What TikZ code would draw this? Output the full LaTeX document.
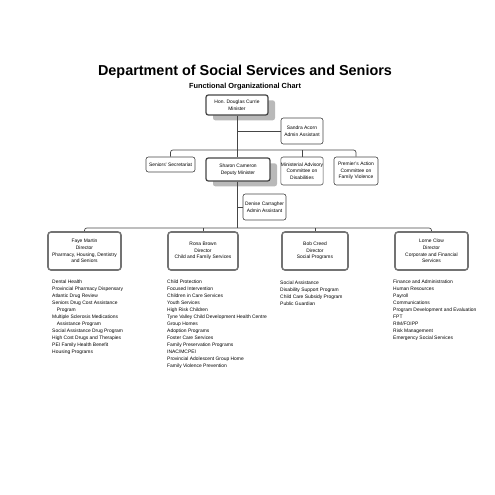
\documentclass[tikz,border=0pt]{standalone}
\usepackage{fontspec}
\setmainfont{Liberation Sans}
\usetikzlibrary{shadows}
\definecolor{line_grey}{RGB}{70,70,70}
\definecolor{shade_grey}{RGB}{185,185,185}
\newcommand\boxfont{\fontsize{4.2}{5.7}\selectfont}
\newcommand\listfont{\fontsize{4.2}{6.0}\selectfont}

\begin{document}
\begin{tikzpicture}[x=0.03cm, y=-0.03cm,
    headbox/.style={draw=line_grey, line width=1.1pt, rounded corners=2pt, fill=white,
      inner sep=0pt, align=center, font=\boxfont,
      drop shadow={shadow xshift=0.21cm, shadow yshift=-0.16cm, fill=shade_grey, opacity=1}},
    smallbox/.style={draw=line_grey, line width=0.5pt, rounded corners=2pt, fill=white,
      inner sep=0pt, align=center, font=\boxfont},
    dirbox/.style={draw=black!55, line width=1.3pt, rounded corners=2.5pt, fill=white,
      inner sep=0pt, align=center, font=\boxfont,
      minimum height=38*0.03cm},
    duties/.style={anchor=north west, inner sep=0pt, align=left, font=\listfont},
    conn/.style={draw=line_grey, line width=0.6pt, rounded corners=2pt}]
  \useasboundingbox (0,0) rectangle (495,495);

  % heading
  \node[font=\fontsize{12.3}{14}\selectfont\bfseries] (title) at (245,72)
    {Department of Social Services and Seniors};
  \node[font=\fontsize{6.3}{7}\selectfont\bfseries] (subtitle) at (245,86.5)
    {Functional Organizational Chart};

  % minister and deputy
  \node[headbox, minimum width=62*0.03cm, minimum height=20*0.03cm]
    (min) at (237,105) {Hon. Douglas Currie\\Minister};
  \node[headbox, minimum width=64*0.03cm, minimum height=23*0.03cm]
    (deputy) at (238,169.5) {Sharon Cameron\\Deputy Minister};
  \node[smallbox, minimum width=42*0.03cm, minimum height=26*0.03cm]
    (sandra) at (302,131) {Sandra Acorn\\Admin Assistant};
  \node[smallbox, minimum width=49*0.03cm, minimum height=15*0.03cm]
    (senior) at (170.5,164.5) {Seniors' Secretariat};
  \node[smallbox, minimum width=42*0.03cm, minimum height=28*0.03cm]
    (advisory) at (302,171) {Ministerial Advisory\\Committee on\\Disabilities};
  \node[smallbox, minimum width=44*0.03cm, minimum height=28*0.03cm]
    (premier) at (356,171) {Premier's Action\\Committee on\\Family Violence};
  \node[smallbox, minimum width=43*0.03cm, minimum height=26*0.03cm]
    (denise) at (264.5,207) {Denise Carragher\\Admin Assistant};

  % directors
  \node[dirbox, minimum width=73*0.03cm] (faye) at (84.5,251)
    {Faye Martin\\Director\\Pharmacy, Housing, Dentistry\\and Seniors};
  \node[dirbox, minimum width=70*0.03cm] (rona) at (203,251)
    {Rona Brown\\Director\\Child and Family Services};
  \node[dirbox, minimum width=66*0.03cm] (bob) at (315,251)
    {Bob Creed\\Director\\Social Programs};
  \node[dirbox, minimum width=73*0.03cm] (lorne) at (431.5,251)
    {Lorne Clow\\Director\\Corporate and Financial\\Services};

  % connectors
  \coordinate (topbar) at (237,150);
  \coordinate (dirbar) at (237,228);
  \draw[conn] (min.south) -- (deputy.north -| min.south);
  \draw[conn] (min.south |- sandra.west) -- (sandra.west);
  \draw[conn] (senior.north) |- (topbar) -| (premier.north);
  \draw[conn] (topbar -| advisory.north) -- (advisory.north);
  \draw[conn] (deputy.south -| min.south) -- (dirbar);
  \draw[conn] (dirbar |- denise.west) -- (denise.west);
  \draw[conn] (faye.north) |- (dirbar) -| (lorne.north);
  \draw[conn] (dirbar -| rona.north) -- (rona.north);
  \draw[conn] (dirbar -| bob.north) -- (bob.north);

  % duties under each director
  \node[duties] (fayelist) at (52,279.5) {Dental Health\\
    Provincial Pharmacy Dispensary\\
    Atlantic Drug Review\\
    Seniors Drug Cost Assistance\\
    \hspace{4pt}Program\\
    Multiple Sclerosis Medications\\
    \hspace{4pt}Assistance Program\\
    Social Assistance Drug Program\\
    High Cost Drugs and Therapies\\
    PEI Family Health Benefit\\
    Housing Programs};
  \node[duties] (ronalist) at (167,279.5) {Child Protection\\
    Focused Intervention\\
    Children in Care Services\\
    Youth Services\\
    High Risk Children\\
    Tyne Valley Child Development Health Centre\\
    Group Homes\\
    Adoption Programs\\
    Foster Care Services\\
    Family Preservation Programs\\
    INAC/MCPEI\\
    Provincial Adolescent Group Home\\
    Family Violence Prevention};
  \node[duties] (boblist) at (280,280.5) {Social Assistance\\
    Disability Support Program\\
    Child Care Subsidy Program\\
    Public Guardian};
  \node[duties] (lornelist) at (393,279.5) {Finance and Administration\\
    Human Resources\\
    Payroll\\
    Communications\\
    Program Development and Evaluation\\
    FPT\\
    RIM/FOIPP\\
    Risk Management\\
    Emergency Social Services};
\end{tikzpicture}
\end{document}
